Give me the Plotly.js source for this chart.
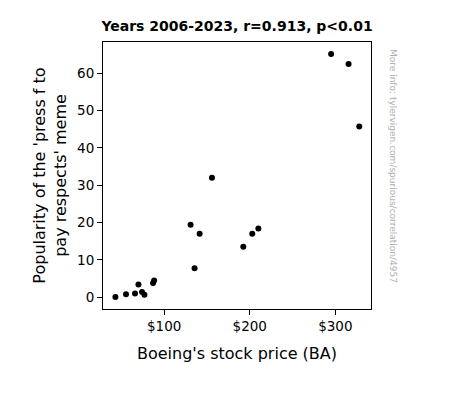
<!DOCTYPE html>
<html>
<head>
<meta charset="utf-8">
<script src="https://cdn.plot.ly/plotly-3.0.1.min.js"></script>
<style>
  html, body { margin: 0; padding: 0; background: #fff; }
  #graphDiv { width: 474px; height: 412px; }
</style>
</head>
<body>
<div id="graphDiv"></div>
<script>
// Boeing stock price (BA), one point per year 2006-2023
const stockPrice = [43.1, 55.5, 66.0, 70.0, 74.2, 77.0, 87.1, 88.3, 135.6,
	155.9, 130.9, 141.5, 192.5, 203.0, 210.1, 295.1, 315.5, 328.0];
// popularity of the 'press f to pay respects' meme
const memePopularity = [0.1, 0.8, 1.0, 3.4, 1.4, 0.7, 3.8, 4.5, 7.8,
	32.0, 19.4, 17.0, 13.5, 17.0, 18.4, 65.1, 62.4, 45.7];

const xTickVals = [100, 200, 300];
const xTickText = ['$100', '$200', '$300'];
const yTickVals = [0, 10, 20, 30, 40, 50, 60];

const font = 'DejaVu Sans, sans-serif';

// scatter points
const points = {
	type: 'scatter',
	mode: 'markers',
	x: stockPrice,
	y: memePopularity,
	marker: { color: 'black', size: 6 },
	hoverinfo: 'x+y',
};

const layout = {
	width: 474,
	height: 412,
	margin: { l: 103, r: 103, t: 42, b: 103, pad: 0 },
	paper_bgcolor: 'white',
	plot_bgcolor: 'white',
	showlegend: false,
	font: { family: font, color: 'black' },
	title: {
		text: '<b>Years 2006-2023, r=0.913, p<0.01</b>',
		font: { family: font, size: 14, color: 'black' },
		x: 0.5,
		xref: 'paper',
		y: 1 - 26 / 412,
		yref: 'container',
		yanchor: 'middle',
	},
	xaxis: {
		range: [28.6, 341.7],
		tickvals: xTickVals,
		ticktext: xTickText,
		ticks: 'outside',
		ticklen: 5,
		tickcolor: 'black',
		tickfont: { size: 13.5 },
		showgrid: false,
		zeroline: false,
		showline: true,
		mirror: true,
		linecolor: 'black',
		linewidth: 1,
		title: { text: "Boeing's stock price (BA)", font: { size: 16 }, standoff: 14 },
	},
	yaxis: {
		range: [-3.13, 68.3],
		tickvals: yTickVals,
		ticks: 'outside',
		ticklen: 5,
		tickcolor: 'black',
		tickfont: { size: 13.5 },
		showgrid: false,
		zeroline: false,
		showline: true,
		mirror: true,
		linecolor: 'black',
		linewidth: 1,
		title: {
			text: "Popularity of the 'press f to<br>pay respects' meme",
			font: { size: 16 },
			standoff: 6,
		},
	},
	annotations: [{
		text: 'More info: tylervigen.com/spurious/correlation/4957',
		xref: 'paper',
		yref: 'paper',
		x: 1.08,
		y: 0.534,
		xanchor: 'center',
		yanchor: 'middle',
		textangle: 90,
		showarrow: false,
		font: { family: font, size: 9, color: '#b0b0b0' },
	}],
};

Plotly.newPlot('graphDiv', [points], layout, { displayModeBar: false, staticPlot: true });
</script>
</body>
</html>
